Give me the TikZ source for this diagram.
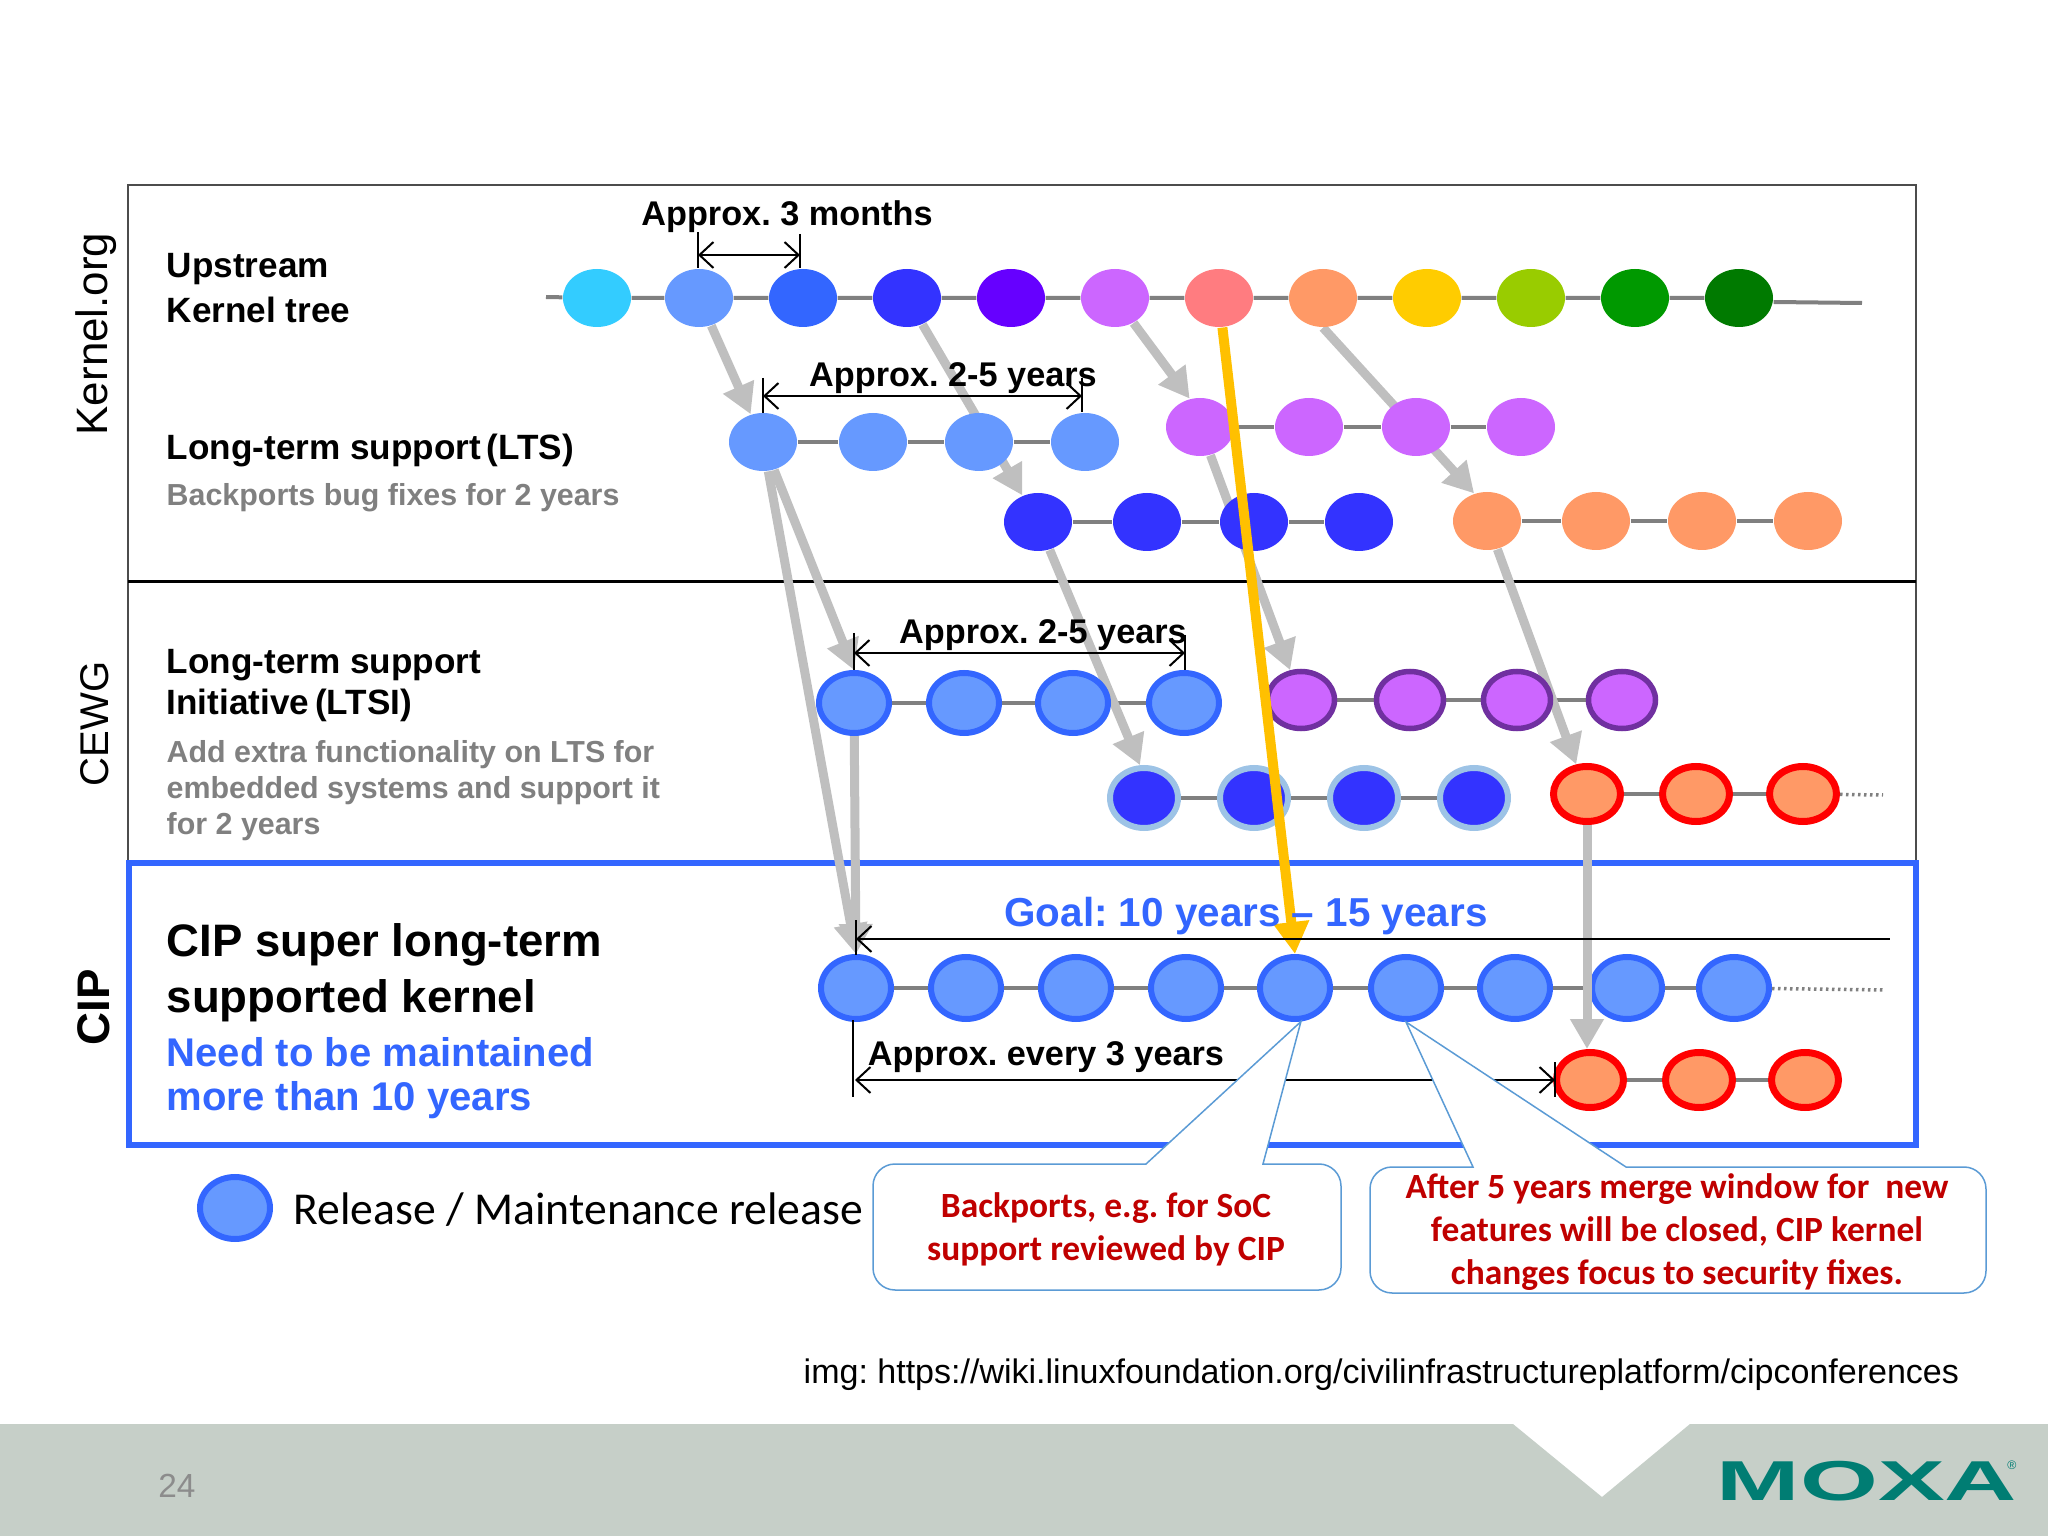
\documentclass[tikz,border=0pt]{standalone}
\usepackage{fontspec}
\setmainfont{Liberation Sans}
\newfontfamily\calibrifont{Carlito}
\usetikzlibrary{arrows.meta,backgrounds,shapes.geometric}
\frenchspacing
\definecolor{relcyan}{HTML}{33CCFF}
\definecolor{rellight}{HTML}{6699FF}
\definecolor{relmid}{HTML}{3366FF}
\definecolor{reldeep}{HTML}{3333FF}
\definecolor{relviolet}{HTML}{6600FF}
\definecolor{relpurple}{HTML}{CC66FF}
\definecolor{relpink}{HTML}{FF7C80}
\definecolor{relorange}{HTML}{FF9966}
\definecolor{relyellow}{HTML}{FFCC00}
\definecolor{rellime}{HTML}{99CC00}
\definecolor{relgreen}{HTML}{009900}
\definecolor{reldark}{HTML}{007A00}
\definecolor{edgepurple}{HTML}{7030A0}
\definecolor{edgesky}{HTML}{9DC3E6}
\definecolor{flowgray}{HTML}{BFBFBF}
\definecolor{flowyellow}{HTML}{FFC000}
\definecolor{calloutred}{HTML}{C00000}
\definecolor{calloutedge}{HTML}{5B9BD5}
\definecolor{footergray}{HTML}{C6CFC8}
\definecolor{moxateal}{HTML}{007D73}
\tikzset{
	release/.style={ellipse, inner sep=0pt, minimum width=0.68cm, minimum height=0.58cm, fill=#1},
	ltsirel/.style={ellipse, inner sep=0pt, minimum width=0.70cm, minimum height=0.60cm, fill=rellight, draw=relmid, line width=0.06cm},
	ltsipurple/.style={ellipse, inner sep=0pt, minimum width=0.67cm, minimum height=0.57cm, fill=relpurple, draw=edgepurple, line width=0.055cm},
	ltsideep/.style={ellipse, inner sep=0pt, minimum width=0.68cm, minimum height=0.60cm, fill=reldeep, draw=edgesky, line width=0.06cm},
	redrel/.style={ellipse, inner sep=0pt, minimum width=0.67cm, minimum height=0.55cm, fill=relorange, draw=red, line width=0.07cm},
	ciprel/.style={ellipse, inner sep=0pt, minimum width=0.70cm, minimum height=0.62cm, fill=rellight, draw=relmid, line width=0.06cm},
	relline/.style={draw=black!50, line width=0.04cm},
	reldots/.style={draw=black!50, line width=0.035cm, dash pattern=on 0.025cm off 0.035cm},
	flowarrow/.style={draw=flowgray, line width=0.09cm, -{Triangle[width=0.32cm,length=0.3cm]}},
	goldarrow/.style={draw=flowyellow, line width=0.1cm, -{Triangle[width=0.34cm,length=0.32cm]}},
	dimline/.style={line width=0.02cm, >={Straight Barb[length=0.14cm,width=0.26cm]}},
	dimtick/.style={line width=0.015cm},
	boldtxt/.style={font=\fontsize{10}{12.8}\selectfont\bfseries, inner sep=0pt, anchor=west, align=left},
	dimtxt/.style={font=\fontsize{9.75}{12}\selectfont\bfseries, inner sep=0pt},
	graytxt/.style={font=\fontsize{8.65}{10.2}\selectfont\bfseries, text=black!50, inner sep=0pt, anchor=west, align=left},
	calltxt/.style={font=\fontsize{10.08}{12.3}\calibrifont\bfseries, text=calloutred, inner sep=0pt, align=center},
	callout/.style={draw=calloutedge, fill=white, line width=0.015cm}
}

\begin{document}
\begin{tikzpicture}[y=-1cm]
	%%%%% START %%%%%
	\useasboundingbox (0, 0) rectangle (20.48, 15.36);
	
	\fill[footergray] (0, 14.24) -- (15.13, 14.24) -- (16.02, 14.97) -- (16.90, 14.24) -- (20.48, 14.24) -- (20.48, 15.36) -- (0, 15.36) -- cycle;
	
	\node[release=relcyan] (up1) at (5.97, 2.98) {};
	\node[release=rellight] (up2) at (6.99, 2.98) {};
	\node[release=relmid] (up3) at (8.03, 2.98) {};
	\node[release=reldeep] (up4) at (9.07, 2.98) {};
	\node[release=relviolet] (up5) at (10.11, 2.98) {};
	\node[release=relpurple] (up6) at (11.15, 2.98) {};
	\node[release=relpink] (up7) at (12.19, 2.98) {};
	\node[release=relorange] (up8) at (13.23, 2.98) {};
	\node[release=relyellow] (up9) at (14.27, 2.98) {};
	\node[release=rellime] (up10) at (15.31, 2.98) {};
	\node[release=relgreen] (up11) at (16.35, 2.98) {};
	\node[release=reldark] (up12) at (17.39, 2.98) {};
	\coordinate (upStart) at (5.46, 2.97);
	\coordinate (upEnd) at (18.62, 3.03);
	
	\node[release=rellight] (lts1) at (7.63, 4.42) {};
	\node[release=rellight] (lts2) at (8.73, 4.42) {};
	\node[release=rellight] (lts3) at (9.79, 4.42) {};
	\node[release=rellight] (lts4) at (10.85, 4.42) {};
	
	\node[release=relpurple] (pur1) at (12.00, 4.27) {};
	\node[release=relpurple] (pur2) at (13.09, 4.27) {};
	\node[release=relpurple] (pur3) at (14.16, 4.27) {};
	\node[release=relpurple] (pur4) at (15.21, 4.27) {};
	
	\node[release=reldeep] (deep1) at (10.38, 5.22) {};
	\node[release=reldeep] (deep2) at (11.47, 5.22) {};
	\node[release=reldeep] (deep3) at (12.54, 5.22) {};
	\node[release=reldeep] (deep4) at (13.59, 5.22) {};
	
	\node[release=relorange] (ora1) at (14.87, 5.21) {};
	\node[release=relorange] (ora2) at (15.96, 5.21) {};
	\node[release=relorange] (ora3) at (17.02, 5.21) {};
	\node[release=relorange] (ora4) at (18.08, 5.21) {};
	
	\node[ltsirel] (ltsi1) at (8.54, 7.03) {};
	\node[ltsirel] (ltsi2) at (9.64, 7.03) {};
	\node[ltsirel] (ltsi3) at (10.73, 7.03) {};
	\node[ltsirel] (ltsi4) at (11.84, 7.03) {};
	
	\node[ltsipurple] (lpur1) at (13.01, 7.00) {};
	\node[ltsipurple] (lpur2) at (14.10, 7.00) {};
	\node[ltsipurple] (lpur3) at (15.17, 7.00) {};
	\node[ltsipurple] (lpur4) at (16.22, 7.00) {};
	
	\node[ltsideep] (ldeep1) at (11.44, 7.98) {};
	\node[ltsideep] (ldeep2) at (12.54, 7.98) {};
	\node[ltsideep] (ldeep3) at (13.64, 7.98) {};
	\node[ltsideep] (ldeep4) at (14.74, 7.98) {};
	
	\node[redrel] (red1) at (15.87, 7.94) {};
	\node[redrel] (red2) at (16.96, 7.94) {};
	\node[redrel] (red3) at (18.03, 7.94) {};
	\coordinate (redEnd) at (18.83, 7.95);
	
	\node[ciprel] (cip1) at (8.56, 9.88) {};
	\node[ciprel] (cip2) at (9.66, 9.88) {};
	\node[ciprel] (cip3) at (10.76, 9.88) {};
	\node[ciprel] (cip4) at (11.86, 9.88) {};
	\node[ciprel] (cip5) at (12.95, 9.88) {};
	\node[ciprel] (cip6) at (14.06, 9.88) {};
	\node[ciprel] (cip7) at (15.15, 9.88) {};
	\node[ciprel] (cip8) at (16.27, 9.88) {};
	\node[ciprel] (cip9) at (17.34, 9.88) {};
	\coordinate (cipEnd) at (18.84, 9.90);
	
	\node[redrel] (cred1) at (15.90, 10.80) {};
	\node[redrel] (cred2) at (16.99, 10.80) {};
	\node[redrel] (cred3) at (18.05, 10.80) {};
	
	\begin{pgfonlayer}{background}
		\draw[line width=0.02cm, draw=black!70] (1.28, 1.85) rectangle (19.16, 8.63);
		\draw[line width=0.03cm, draw=black] (1.28, 5.82) -- (19.16, 5.82);
		\draw[line width=0.055cm, draw=relmid] (1.29, 8.63) rectangle (19.16, 11.45);
		
		\draw[relline] (upStart) -- (up1) -- (up2) -- (up3) -- (up4) -- (up5) -- (up6) -- (up7) -- (up8) -- (up9) -- (up10) -- (up11) -- (up12);
		\draw[relline] ([yshift=-0.04cm]up12.east) -- (upEnd);
		\draw[relline] (lts1) -- (lts2) -- (lts3) -- (lts4);
		\draw[relline] (pur1) -- (pur2) -- (pur3) -- (pur4);
		\draw[relline] (deep1) -- (deep2) -- (deep3) -- (deep4);
		\draw[relline] (ora1) -- (ora2) -- (ora3) -- (ora4);
		\draw[relline] (ltsi1) -- (ltsi2) -- (ltsi3) -- (ltsi4);
		\draw[relline] (lpur1) -- (lpur2) -- (lpur3) -- (lpur4);
		\draw[relline] (ldeep1) -- (ldeep2) -- (ldeep3) -- (ldeep4);
		\draw[relline] (red1) -- (red2) -- (red3);
		\draw[relline] (cip1) -- (cip2) -- (cip3) -- (cip4) -- (cip5) -- (cip6) -- (cip7) -- (cip8) -- (cip9);
		\draw[relline] (cred1) -- (cred2) -- (cred3);
		\draw[reldots] (red3) -- (redEnd);
		\draw[reldots] (cip9) -- (cipEnd);
		
		\draw[flowarrow] (up2) -- (lts1);
		\draw[flowarrow] (up4) -- (deep1);
		\draw[flowarrow] (up6) -- (pur1.110);
		\draw[flowarrow] (up8.south) -- (ora1.115);
		\draw[flowarrow] (lts1) -- (ltsi1.north);
		\draw[flowarrow] (lts1) -- (cip1.north);
		\draw[flowarrow] (ltsi1) -- (cip1.north);
		\draw[flowarrow] (deep1) -- (ldeep1.97);
		\draw[flowarrow] (pur1) -- (lpur1.110);
		\draw[flowarrow] (ora1) -- (red1.110);
	\end{pgfonlayer}
	
	\draw[flowarrow] (red1.south) -- (red1.south |- cred1.north);
	\draw[goldarrow] (up7) -- (cip5.north);
	
	\coordinate (dimA) at (6.98, 2.55);
	\coordinate (dimB) at (8.00, 2.55);
	\draw[dimline, <->] (dimA) -- (dimB);
	\draw[dimtick] (6.98, 2.32) -- (dimA) -- (6.98, 2.68);
	\draw[dimtick] (8.00, 2.34) -- (dimB) -- (8.00, 2.68);
	
	\coordinate (dimC) at (7.63, 3.96);
	\coordinate (dimD) at (10.82, 3.96);
	\draw[dimline, <->] (dimC) -- (dimD);
	\draw[dimtick] (7.63, 3.78) -- (dimC) -- (7.63, 4.13);
	\draw[dimtick] (10.82, 3.78) -- (dimD) -- (10.82, 4.12);
	
	\coordinate (dimE) at (8.54, 6.53);
	\coordinate (dimF) at (11.85, 6.53);
	\draw[dimline, <->] (dimE) -- (dimF);
	\draw[dimtick] (8.54, 6.33) -- (dimE) -- (8.54, 6.70);
	\draw[dimtick] (11.85, 6.35) -- (dimF) -- (11.85, 6.70);
	
	\coordinate (dimG) at (8.56, 9.39);
	\coordinate (dimH) at (18.90, 9.39);
	\draw[dimline, <-] (dimG) -- (dimH);
	\draw[dimtick] (8.56, 9.20) -- (dimG) -- (8.56, 9.55);
	
	\coordinate (dimI) at (8.55, 10.80);
	\coordinate (dimJ) at (15.55, 10.80);
	\draw[dimline, <->] (dimI) -- (dimJ);
	\draw[dimtick] (8.53, 10.20) -- (8.53, 10.97);
	\draw[dimtick] (15.55, 10.62) -- (dimJ) -- (15.55, 10.97);
	
	\node[dimtxt] (lblMonths) at (7.87, 2.17) {Approx. 3 months};
	\node[dimtxt] (lblYearsA) at (9.53, 3.78) {Approx. 2-5 years};
	\node[dimtxt] (lblYearsB) at (10.43, 6.35) {Approx. 2-5 years};
	\node[dimtxt] (lblEvery) at (10.46, 10.57) {Approx. every 3 years};
	\node[dimtxt, font=\fontsize{11.5}{13}\selectfont\bfseries, text=relmid] (lblGoal) at (12.46, 9.16) {Goal: 10 years -- 15 years};
	
	\node[boldtxt] (txtUp) at (1.66, 2.885) {Upstream\\Kernel tree};
	\node[boldtxt] (txtLts) at (1.66, 4.50) {Long-term support\,(LTS)};
	\node[graytxt] (txtLtsSub) at (1.66, 4.975) {Backports bug fixes for 2 years};
	\node[boldtxt, font=\fontsize{10}{11.7}\selectfont\bfseries] (txtLtsi) at (1.66, 6.855) {Long-term support\\Initiative\,(LTSI)};
	\node[graytxt] (txtLtsiSub) at (1.66, 7.905) {Add extra functionality on LTS for\\embedded systems and support it\\for 2 years};
	\node[boldtxt, font=\fontsize{12.95}{15.9}\selectfont\bfseries] (txtCip) at (1.66, 9.73) {CIP super long-term\\supported kernel};
	\node[boldtxt, font=\fontsize{11.4}{12.5}\selectfont\bfseries, text=relmid] (txtCipSub) at (1.66, 10.78) {Need to be maintained\\more than 10 years};
	
	\node[rotate=90, inner sep=0pt, font=\fontsize{12.5}{14}\selectfont] (sideKernel) at (0.96, 3.34) {Kernel.org};
	\node[rotate=90, inner sep=0pt, font=\fontsize{11.4}{14}\selectfont] (sideCewg) at (0.95, 7.24) {CEWG};
	\node[rotate=90, inner sep=0pt, font=\fontsize{13}{14}\selectfont\bfseries] (sideCip) at (0.94, 10.07) {CIP};
	
	\node[ciprel] (legendRel) at (2.35, 12.08) {};
	\node[inner sep=0pt, anchor=west, font=\fontsize{13}{14}\calibrifont] (legendTxt) at (2.93, 12.10) {Release / Maintenance release};
	
	\draw[callout] [rounded corners=0.22cm] (12.63, 11.64) -- (13.41, 11.64) -- (13.41, 12.90) -- (8.73, 12.90) -- (8.73, 11.64) [sharp corners] -- (11.46, 11.64) -- (cip5.-80) -- cycle;
	\draw[callout] [rounded corners=0.22cm] (16.26, 11.67) -- (19.86, 11.67) -- (19.86, 12.93) -- (13.70, 12.93) -- (13.70, 11.67) [sharp corners] -- (14.73, 11.67) -- (cip6.south) -- cycle;
	\node[calltxt] (callBack) at (11.06, 12.29) {Backports, e.g. for SoC\\support reviewed by CIP};
	\node[calltxt] (callMerge) at (16.77, 12.32) {After 5 years merge window for\ \ new\\features will be closed, CIP kernel\\changes focus to security fixes.};
	
	\node[inner sep=0pt, anchor=west, font=\fontsize{9.68}{12}\selectfont] (imgSource) at (8.03, 13.75) {img: https://wiki.linuxfoundation.org/civilinfrastructureplatform/cipconferences};
	
	\node[inner sep=0pt, text=black!45, font=\fontsize{9.5}{12}\selectfont] (pageNum) at (1.77, 14.86) {24};
	\node[inner sep=0pt, text=moxateal, xscale=1.78, font=\fontsize{16}{16}\selectfont\bfseries] (moxaLogo) at (18.67, 14.81) {MOXA};
	\node[inner sep=0pt, text=moxateal, font=\fontsize{3.5}{4}\selectfont] (moxaMark) at (20.12, 14.65) {®};
	%%%%% END %%%%%
\end{tikzpicture}
\end{document}
